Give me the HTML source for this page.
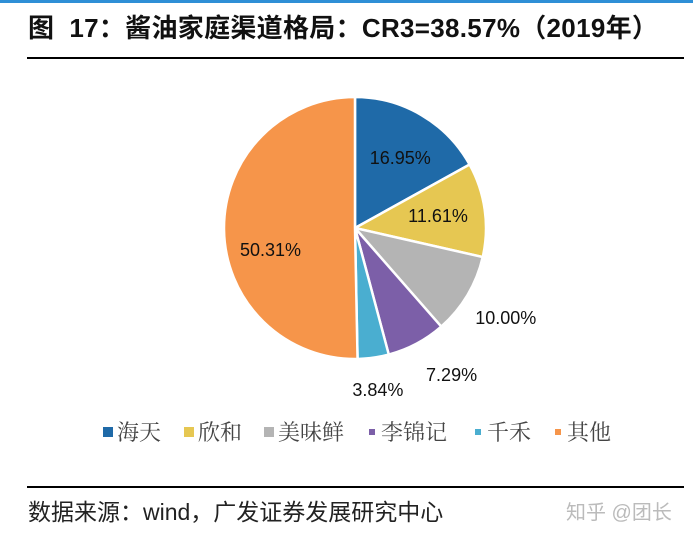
<!DOCTYPE html>
<html><head><meta charset="utf-8"><style>
body{margin:0;width:693px;height:540px;background:#fff;overflow:hidden;position:relative;font-family:"Liberation Sans","Noto Sans CJK SC",sans-serif}
.t{position:absolute}
</style></head><body>
<div class="t" style="left:0;top:0;width:693px;height:3px;background:#2e8fd6"></div>
<div class="t" style="left:28px;top:8px;font-size:26px;font-weight:bold;color:#111;white-space:nowrap;letter-spacing:0.3px">图&nbsp; 17：酱油家庭渠道格局：CR3=38.57%（2019年）</div>
<div class="t" style="left:27px;top:57px;width:657px;height:2px;background:#000"></div>
<svg class="t" style="left:0;top:0" width="693" height="540">
<g id="pie"></g>
<g id="legend"></g>
</svg>
<div class="t" style="left:27px;top:486px;width:657px;height:2px;background:#000"></div>
<div class="t" style="left:28px;top:493px;font-size:23px;color:#222;white-space:nowrap">数据来源：wind，广发证券发展研究中心</div>
<div class="t" style="left:566px;top:496px;font-size:20px;color:#bbb;white-space:nowrap">知乎 @团长</div>
<script>
const categories=["海天","欣和","美味鲜","李锦记","千禾","其他"];
const values=[16.95,11.61,10.00,7.29,3.84,50.31];
const labels=["16.95%","11.61%","10.00%","7.29%","3.84%","50.31%"];
const colors=["#1f6aa8","#e6c752","#b4b4b4","#7c5fa8","#4aaed0","#f6954a"];
const cx=355,cy=228,r=131;
const ns="http://www.w3.org/2000/svg";
const pie=document.getElementById('pie');
const total=values.reduce((a,b)=>a+b,0);
const labelPos=[[0.62,0,4],[0.64,0,0],[1.34,0,0],[1.34,-8,14],[1.25,0,0],[0.66,21,2]];
let a0=0;
values.forEach((v,i)=>{
 const a1=a0+v/total*2*Math.PI;
 const x0=cx+r*Math.sin(a0),y0=cy-r*Math.cos(a0),x1=cx+r*Math.sin(a1),y1=cy-r*Math.cos(a1);
 const p=document.createElementNS(ns,'path');
 p.setAttribute('d',`M${cx},${cy}L${x0},${y0}A${r},${r} 0 ${a1-a0>Math.PI?1:0} 1 ${x1},${y1}Z`);
 p.setAttribute('fill',colors[i]);p.setAttribute('stroke','#fff');p.setAttribute('stroke-width','2.5');
 
 
 pie.appendChild(p);
 const am=(a0+a1)/2,f=labelPos[i][0];
 const t=document.createElementNS(ns,'text');
 t.setAttribute('x',cx+r*f*Math.sin(am)+labelPos[i][2]);t.setAttribute('y',cy-r*f*Math.cos(am)+6+labelPos[i][1]);
 t.setAttribute('text-anchor','middle');t.setAttribute('font-size','18');t.setAttribute('fill','#111');
 t.textContent=labels[i];
 
 
 pie.appendChild(t);
 a0=a1;
});
const lg=document.getElementById('legend');
const lx=[103,184,264,367,473,553];
categories.forEach((c,i)=>{
 const g=document.createElementNS(ns,'g');
 
 
 const s=document.createElementNS(ns,'rect');
 const sz=i>=3?6:10;
 s.setAttribute('x',lx[i]+(10-sz)/2);s.setAttribute('y',427+(10-sz)/2);s.setAttribute('width',sz);s.setAttribute('height',sz);s.setAttribute('fill',colors[i]);
 g.appendChild(s);
 const t=document.createElementNS(ns,'text');
 t.setAttribute('x',lx[i]+14);t.setAttribute('y',440);t.setAttribute('font-size','22');t.setAttribute('fill','#444');
 t.setAttribute('font-family','"Noto Serif CJK SC","Noto Sans CJK SC",serif');
 t.textContent=c;g.appendChild(t);lg.appendChild(g);
});
</script>
</body></html>
